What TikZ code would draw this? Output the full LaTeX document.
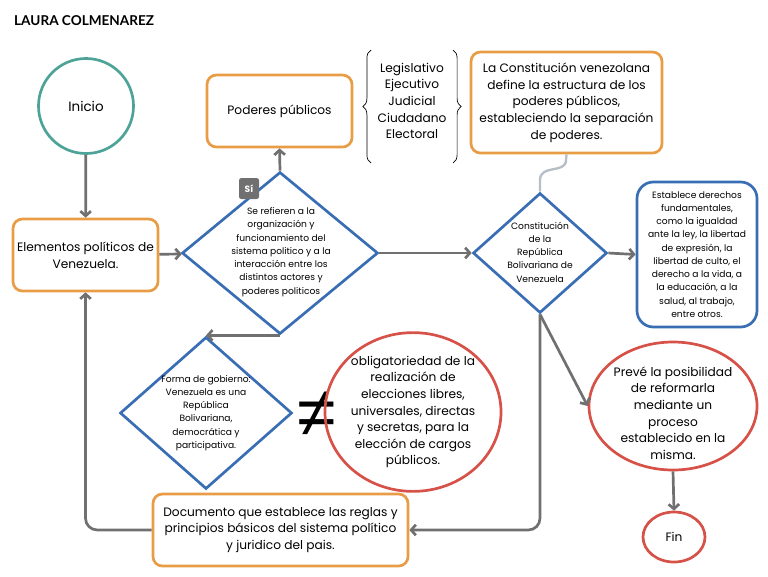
\documentclass[tikz,border=0pt]{standalone}
\usepackage{fontspec}
\setmainfont{Poppins}
\newfontfamily\titulofont{Lato}
\newfontfamily\simbolos{Liberation Sans}
\usetikzlibrary{shapes.geometric,arrows.meta,decorations.pathreplacing}

\definecolor{naranja}{RGB}{232,156,70}
\definecolor{verdeazul}{RGB}{78,163,153}
\definecolor{azul}{RGB}{58,110,180}
\definecolor{rojo}{RGB}{214,82,72}
\definecolor{gris}{RGB}{112,112,112}
\definecolor{grisclaro}{RGB}{182,190,200}

\newcommand{\letragrande}{\fontsize{10.4}{14.2}\selectfont}
\newcommand{\letrachica}{\fontsize{7.8}{11.3}\selectfont}

\tikzset{
  caja/.style={draw=naranja, line width=2.3pt, rounded corners=8pt, align=center, font=\letragrande},
  cajaazul/.style={draw=azul, line width=2.3pt, rounded corners=14pt, align=center, font=\letrachica},
  rombo/.style={draw=azul, diamond, line width=2.3pt, inner sep=0pt},
  ovalo/.style={draw=rojo, ellipse, line width=2.3pt, inner sep=0pt, align=center, font=\letragrande},
  texto/.style={align=center, font=\letrachica, inner sep=0pt},
  flecha/.style={draw=gris, line width=2.3pt, -{Straight Barb[length=4pt,width=9pt]}},
}

\begin{document}
\begin{tikzpicture}[x=0.03cm, y=-0.03cm]
  \useasboundingbox (0,0) rectangle (768,576);
  \node[anchor=west, font=\titulofont\bfseries\fontsize{11.6}{13}\selectfont] (titulo) at (10,21) {LAURA COLMENAREZ};

  % columna izquierda
  \node[draw=verdeazul, circle, line width=2.3pt, minimum size=2.85cm, font=\fontsize{11.5}{13}\selectfont] (inicio) at (86,106) {Inicio};
  \node[caja, minimum width=4.35cm, minimum height=2.16cm] (elem) at (85.5,255) {Elementos políticos de\\Venezuela.};
  \node[caja, minimum width=4.35cm, minimum height=2.16cm] (poder) at (279.5,111) {Poderes públicos};

  % poderes
  \node[font=\letragrande, align=center] (lista) at (412,101) {Legislativo\\Ejecutivo\\Judicial\\Ciudadano\\Electoral};
  \draw[decorate, decoration={brace, amplitude=7pt}, line width=0.6pt] (371,163) -- (371,50);
  \draw[decorate, decoration={brace, amplitude=7pt}, line width=0.6pt] (453,50) -- (453,163);

  \node[caja, minimum width=5.73cm, minimum height=3.03cm] (lacons) at (566.5,102.5) {La Constitución venezolana\\define la estructura de los\\poderes públicos,\\estableciendo la separación\\de poderes.};

  % rombos
  \node[rombo, minimum width=5.88cm, minimum height=4.86cm] (d1) at (280,253) {};
  \node[texto] (d1t) at (281,252) {Se refieren a la\\organización y\\funcionamiento del\\sistema politico y a la\\interacción entre los\\distintos actores y\\poderes politicos};
  \node[fill=gris, rounded corners=2pt, minimum width=0.6cm, minimum height=0.63cm, inner sep=0pt, text=white, font=\bfseries\letrachica] (si) at (249,188.5) {Sí};

  \node[rombo, minimum width=4.02cm, minimum height=3.6cm] (d2) at (540,253) {};
  \node[texto] (d2t) at (540,252) {Constitución\\de la\\República\\Bolivariana de\\Venezuela};

  \node[cajaazul, minimum width=3.6cm, minimum height=4.35cm] (estab) at (697,254.5) {Establece derechos\\fundamentales,\\como la igualdad\\ante la ley, la libertad\\de expresión, la\\libertad de culto, el\\derecho a la vida, a\\la educación, a la\\salud, al trabajo,\\entre otros.};

  \node[rombo, minimum width=5.16cm, minimum height=4.56cm] (forma) at (206,413) {};
  \node[texto] (format) at (206,413) {Forma de gobierno:\\Venezuela es una\\República\\Bolivariana,\\democrática y\\participativa.};

  \node[font=\simbolos\fontsize{60}{60}\selectfont, inner sep=0pt] (distinto) at (317,414) {≠};

  \node[ovalo, minimum width=4.26cm, minimum height=4.74cm] (oblig) at (413,412) {obligatoriedad de la\\realización de\\elecciones libres,\\universales, directas\\y secretas, para la\\elección de cargos\\públicos.};
  \node[ovalo, minimum width=5.04cm, minimum height=3.84cm] (preve) at (673,406) {};
  \node[texto, font=\letragrande] (prevet) at (673,413) {Prevé la posibilidad\\de reformarla\\mediante un\\proceso\\establecido en la\\misma.};
  \node[ovalo, minimum width=1.86cm, minimum height=1.5cm] (fin) at (674,537) {Fin};

  \node[caja, minimum width=7.65cm, minimum height=2.16cm] (doc) at (280.5,530) {Documento que establece las reglas y\\principios básicos del sistema político\\y juridico del pais.};

  % conectores
  \draw[flecha] (inicio) -- (elem);
  \draw[flecha] (elem) -- (d1);
  \draw[flecha] (d1.north) -- (poder.south);
  \draw[flecha] (d1.east) -- (d2.west);
  \draw[flecha] (d2.east) -- (estab.west);
  \draw[flecha] (d1.south) -- (forma.north |- d1.south);
  \draw[flecha, rounded corners=10pt] (d2.south) |- (doc.east);
  \draw[flecha] (d2.south) -- (preve.west);
  \draw[flecha] (preve.south) -- (fin.north);
  \draw[flecha, rounded corners=10pt] (doc.west) -| (elem.south);
  \draw[grisclaro, line width=2pt] (lacons.south) -- (566,160) .. controls (566,174) and (540,164) .. (540,180) -- (d2.north);
\end{tikzpicture}
\end{document}
